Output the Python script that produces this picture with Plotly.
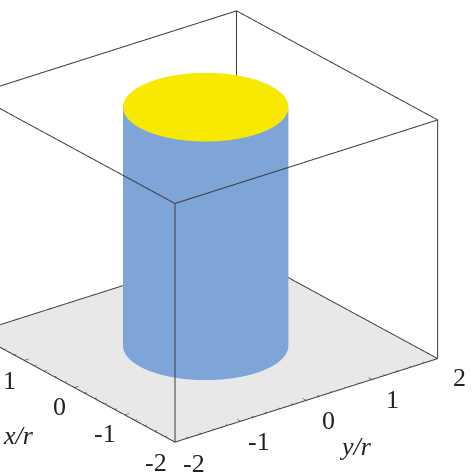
import numpy as np
import plotly.graph_objects as go

x_range = [-2, 2]
y_range = [-2, 2]
z_range = [0, 1]
radius = 1.0
height = 1.0
major_ticks = [-2, -1, 0, 1, 2]
minor_ticks = [-1.8, -1.6, -1.4, -1.2, -0.8, -0.6, -0.4, -0.2, 0.2, 0.4, 0.6, 0.8, 1.2, 1.4, 1.6, 1.8]
x_label_shift = [(-19, -20), (-20, -19), (-15, -19), (-15, -20), (0, 0)]
y_label_shift = [(19, -21), (18, -20), (22, -20), (21, -20), (22, -19)]

SIDE = "#7ea4d8"
TOP = "#f7e900"
LINE = "#3c3c3c"
TEXT = "#222222"

theta = np.linspace(0, 2 * np.pi, 121)
flat = dict(ambient=1, diffuse=0, specular=0, roughness=1, fresnel=0)

fig = go.Figure()

tt, zz = np.meshgrid(theta, [z_range[0], height])
fig.add_surface(x=radius * np.cos(tt), y=radius * np.sin(tt), z=zz,
                colorscale=[[0, SIDE], [1, SIDE]], showscale=False, lighting=flat, hoverinfo="skip")
rr, tc = np.meshgrid([0, radius], theta)
fig.add_surface(x=rr * np.cos(tc), y=rr * np.sin(tc), z=height + 0 * rr,
                colorscale=[[0, TOP], [1, TOP]], showscale=False, lighting=flat, hoverinfo="skip")

x0, x1 = x_range
y0, y1 = y_range
z0, z1 = z_range
edges = [
    ([x0, x1, x1, x0, x0], [y0, y0, y1, y1, y0], [z0] * 5),
    ([x0, x1, x1, x0, x0], [y0, y0, y1, y1, y0], [z1] * 5),
    ([x0, x0], [y0, y0], [z0, z1]),
    ([x1, x1], [y0, y0], [z0, z1]),
    ([x0, x0], [y1, y1], [z0, z1]),
    ([x1, x1], [y1, y1], [z0, z1]),
]
for ex, ey, ez in edges:
    fig.add_scatter3d(x=ex, y=ey, z=ez, mode="lines", line=dict(color=LINE, width=2),
                      hoverinfo="skip", showlegend=False)

for t in major_ticks + minor_ticks:
    L = 0.07 if t in major_ticks else 0.035
    fig.add_scatter3d(x=[t, t], y=[y0, y0 + L], z=[z0, z0], mode="lines",
                      line=dict(color=LINE, width=1), hoverinfo="skip", showlegend=False)
    fig.add_scatter3d(x=[x0, x0 + L], y=[t, t], z=[z0, z0], mode="lines",
                      line=dict(color=LINE, width=1), hoverinfo="skip", showlegend=False)

font = dict(family="Liberation Serif", size=26, color=TEXT)
annotations = []
for t, (dx, dy) in zip(major_ticks, x_label_shift):
    if t < 2:
        annotations.append(dict(x=t, y=y0, z=z0, text=str(t), showarrow=False, font=font,
                                xanchor="center", yanchor="middle", xshift=dx, yshift=dy))
for t, (dx, dy) in zip(major_ticks, y_label_shift):
    annotations.append(dict(x=x0, y=t, z=z0, text=str(t), showarrow=False, font=font,
                            xanchor="center", yanchor="middle", xshift=dx, yshift=dy))
annotations.append(dict(x=0, y=y0, z=z0, text="<i>x/r</i>", showarrow=False, font=font,
                        xanchor="center", yanchor="middle", xshift=-56, yshift=-48))
annotations.append(dict(x=x0, y=0, z=z0, text="<i>y/r</i>", showarrow=False, font=font,
                        xanchor="center", yanchor="middle", xshift=49, yshift=-46))

axis = dict(title="", showticklabels=False, ticks="", showgrid=False, zeroline=False,
            showline=False, showbackground=False, showspikes=False)

view = np.array([-0.7224, 0.5532, 0.4154])
center = np.array([-0.0948, -0.0936, -0.0403])
eye = center + 1.5 * view

fig.update_layout(
    width=474, height=474, margin=dict(l=0, r=0, t=0, b=0), showlegend=False,
    paper_bgcolor="white",
    scene=dict(
        domain=dict(x=[0, 1], y=[0, 1]),
        xaxis=dict(axis, range=x_range),
        yaxis=dict(axis, range=[y_range[1], y_range[0]]),
        zaxis=dict(axis, range=z_range, showbackground=True, backgroundcolor="#e8e8e8"),
        aspectmode="manual",
        aspectratio=dict(x=1.396, y=1.396, z=1.107),
        annotations=annotations,
        camera=dict(
            projection=dict(type="orthographic"),
            up=dict(x=0, y=0, z=1),
            center=dict(x=center[0], y=center[1], z=center[2]),
            eye=dict(x=eye[0], y=eye[1], z=eye[2]),
        ),
    ),
)
fig.write_html("out.html", config=dict(displayModeBar=False),
               post_script="document.body.style.margin='0';document.body.style.overflow='hidden';")
